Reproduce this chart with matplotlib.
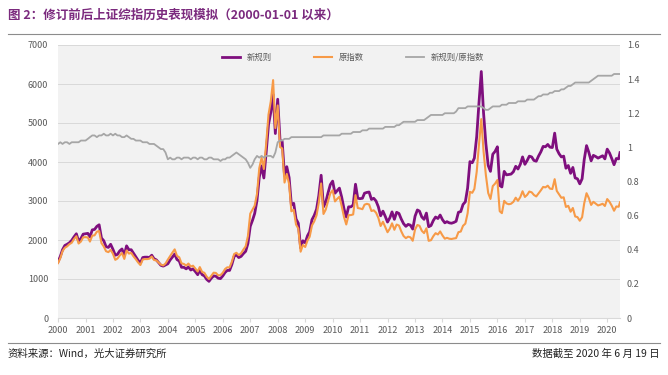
import pandas as pd
import matplotlib
matplotlib.use("Agg")
import matplotlib.pyplot as plt
import matplotlib.dates as mdates

plt.rcParams['font.family'] = ['Noto Sans CJK SC', 'DejaVu Sans']

# 月度取值（每月初），最后一个点为 2020-06-19
dates = list(pd.date_range('2000-01-01', '2020-06-01', freq='MS')) + [pd.Timestamp('2020-06-19')]

# 原指数
orig = [
    1407, 1535, 1714, 1801, 1836, 1894, 1928, 2023, 2097, 1910, 1961, 2070,
    2073, 2065, 1959, 2112, 2119, 2214, 2230, 1920, 1834, 1712, 1689, 1747,
    1646, 1491, 1524, 1603, 1667, 1515, 1732, 1652, 1669, 1581, 1507, 1426,
    1358, 1500, 1511, 1510, 1521, 1576, 1487, 1476, 1421, 1367, 1348, 1397,
    1497, 1590, 1675, 1760, 1595, 1555, 1400, 1386, 1342, 1396, 1320, 1341,
    1266, 1191, 1306, 1181, 1159, 1060, 1000, 1083, 1162, 1155, 1092, 1099,
    1161, 1258, 1299, 1298, 1440, 1641, 1672, 1612, 1658, 1752, 1837, 2099,
    2675, 2786, 2881, 3183, 3841, 4109, 3820, 4471, 5218, 5552, 6100, 4871,
    5450, 4383, 4348, 3473, 3693, 3433, 2736, 2775, 2397, 2293, 1700, 1871,
    1821, 1991, 2082, 2373, 2477, 2633, 2959, 3450, 2667, 2779, 2996, 3195,
    3277, 2989, 3051, 3110, 2871, 2592, 2398, 2638, 2639, 2656, 3150, 2820,
    2808, 2790, 2905, 2928, 2911, 2743, 2762, 2701, 2568, 2359, 2468, 2333,
    2199, 2292, 2428, 2262, 2396, 2372, 2225, 2103, 2047, 2086, 2068, 1980,
    2269, 2385, 2365, 2236, 2177, 2300, 1979, 1994, 2098, 2175, 2141, 2220,
    2116, 2033, 2056, 2033, 2026, 2039, 2048, 2201, 2217, 2364, 2420, 2683,
    3235, 3210, 3310, 3748, 4442, 5100, 4277, 3664, 3206, 3053, 3383, 3445,
    3539, 2738, 2688, 3004, 2938, 2917, 2930, 2979, 3085, 3005, 3100, 3250,
    3104, 3159, 3242, 3223, 3155, 3117, 3192, 3273, 3361, 3349, 3393, 3317,
    3307, 3560, 3259, 3169, 3082, 3095, 2847, 2876, 2725, 2821, 2603, 2588,
    2494, 2585, 2941, 3200, 3078, 2899, 2979, 2933, 2886, 2905, 2929, 2872,
    3050, 2977, 2880, 2750, 2860, 2852, 2967,
]

# 新规则
new_rule = [
    1440, 1580, 1750, 1860, 1890, 1930, 1990, 2080, 2160, 1970, 2040, 2150,
    2160, 2170, 2080, 2260, 2270, 2350, 2390, 2050, 1980, 1830, 1810, 1890,
    1760, 1610, 1630, 1720, 1770, 1610, 1850, 1750, 1750, 1660, 1570, 1480,
    1410, 1550, 1560, 1560, 1550, 1610, 1520, 1490, 1420, 1350, 1330, 1360,
    1390, 1490, 1560, 1640, 1500, 1460, 1300, 1300, 1260, 1310, 1230, 1260,
    1190, 1110, 1230, 1110, 1080, 990, 940, 1020, 1080, 1070, 1020, 1010,
    1080, 1170, 1220, 1220, 1370, 1580, 1620, 1550, 1580, 1650, 1710, 1910,
    2350, 2510, 2680, 3020, 3610, 3900, 3590, 4250, 4960, 5270, 5730, 4730,
    5610, 4560, 4520, 3650, 3880, 3600, 2900, 2940, 2540, 2430, 1800, 1980,
    1930, 2110, 2210, 2520, 2630, 2790, 3140, 3660, 2850, 2970, 3210, 3420,
    3510, 3200, 3260, 3330, 3100, 2800, 2590, 2850, 2850, 2900, 3430, 3070,
    3060, 3070, 3200, 3220, 3230, 3040, 3070, 3000, 2850, 2620, 2740, 2610,
    2460, 2570, 2720, 2530, 2710, 2680, 2540, 2420, 2350, 2400, 2380, 2280,
    2610, 2770, 2740, 2590, 2530, 2690, 2340, 2370, 2500, 2590, 2550, 2640,
    2520, 2440, 2470, 2440, 2430, 2450, 2480, 2710, 2730, 2910, 2980, 3330,
    4010, 3980, 4100, 4650, 5510, 6320, 5260, 4470, 3910, 3760, 4200, 4270,
    4390, 3400, 3360, 3760, 3670, 3680, 3690, 3750, 3890, 3820, 3940, 4130,
    3940, 4040, 4150, 4130, 4040, 4020, 4150, 4260, 4400, 4390, 4450, 4380,
    4370, 4740, 4330, 4210, 4130, 4150, 3840, 3910, 3710, 3860, 3590, 3570,
    3440, 3570, 4060, 4420, 4250, 4030, 4170, 4140, 4100, 4130, 4160, 4080,
    4330, 4230, 4090, 3930, 4090, 4080, 4240,
]

# 新规则/原指数（右轴）
ratio = [
    1.02, 1.03, 1.02, 1.03, 1.03, 1.02, 1.03, 1.03, 1.03, 1.03, 1.04, 1.04,
    1.04, 1.05, 1.06, 1.07, 1.07, 1.06, 1.07, 1.07, 1.08, 1.07, 1.07, 1.08,
    1.07, 1.08, 1.07, 1.07, 1.06, 1.06, 1.07, 1.06, 1.05, 1.05, 1.04, 1.04,
    1.04, 1.03, 1.03, 1.03, 1.02, 1.02, 1.02, 1.01, 1.00, 0.99, 0.99, 0.97,
    0.93, 0.94, 0.93, 0.93, 0.94, 0.94, 0.93, 0.94, 0.94, 0.94, 0.93, 0.94,
    0.94, 0.93, 0.94, 0.94, 0.93, 0.93, 0.94, 0.94, 0.93, 0.93, 0.93, 0.92,
    0.93, 0.93, 0.94, 0.94, 0.95, 0.96, 0.97, 0.96, 0.95, 0.94, 0.93, 0.91,
    0.88, 0.90, 0.93, 0.95, 0.94, 0.95, 0.94, 0.95, 0.95, 0.95, 0.94, 0.97,
    1.03, 1.04, 1.04, 1.05, 1.05, 1.05, 1.06, 1.06, 1.06, 1.06, 1.06, 1.06,
    1.06, 1.06, 1.06, 1.06, 1.06, 1.06, 1.06, 1.06, 1.07, 1.07, 1.07, 1.07,
    1.07, 1.07, 1.07, 1.07, 1.08, 1.08, 1.08, 1.08, 1.08, 1.09, 1.09, 1.09,
    1.09, 1.10, 1.10, 1.10, 1.11, 1.11, 1.11, 1.11, 1.11, 1.11, 1.11, 1.12,
    1.12, 1.12, 1.12, 1.12, 1.13, 1.13, 1.14, 1.15, 1.15, 1.15, 1.15, 1.15,
    1.15, 1.16, 1.16, 1.16, 1.16, 1.17, 1.18, 1.19, 1.19, 1.19, 1.19, 1.19,
    1.19, 1.20, 1.20, 1.20, 1.20, 1.20, 1.21, 1.23, 1.23, 1.23, 1.23, 1.24,
    1.24, 1.24, 1.24, 1.24, 1.24, 1.24, 1.23, 1.22, 1.22, 1.23, 1.24, 1.24,
    1.24, 1.24, 1.25, 1.25, 1.25, 1.26, 1.26, 1.26, 1.26, 1.27, 1.27, 1.27,
    1.27, 1.28, 1.28, 1.28, 1.28, 1.29, 1.30, 1.30, 1.31, 1.31, 1.31, 1.32,
    1.32, 1.33, 1.33, 1.33, 1.34, 1.34, 1.35, 1.36, 1.36, 1.37, 1.38, 1.38,
    1.38, 1.38, 1.38, 1.38, 1.38, 1.39, 1.40, 1.41, 1.42, 1.42, 1.42, 1.42,
    1.42, 1.42, 1.42, 1.43, 1.43, 1.43, 1.43,
]

years = list(range(2000, 2021))

purple = '#7f0f7e'
orange = '#f79a47'
grey = '#a6a6a6'
txt = '#595959'

fig = plt.figure(figsize=(6.68, 3.75), dpi=100)
ax = fig.add_axes([58 / 668, 57 / 375, 562 / 668, 273 / 375])
ax.set_facecolor('#f2f2f2')
ax2 = ax.twinx()

l1, = ax.plot(dates, new_rule, color=purple, lw=2.0, label='新规则')
l2, = ax.plot(dates, orig, color=orange, lw=1.5, label='原指数')
l3, = ax2.plot(dates, ratio, color=grey, lw=1.3, label='新规则/原指数')

ax.set_ylim(0, 7000)
ax.set_yticks(range(0, 7001, 1000))
ax2.set_ylim(0, 1.6)
ax2.set_yticks([0, 0.2, 0.4, 0.6, 0.8, 1.0, 1.2, 1.4, 1.6])
ax2.set_yticklabels(['0', '0.2', '0.4', '0.6', '0.8', '1', '1.2', '1.4', '1.6'])

ax.set_xlim(pd.Timestamp('2000-01-01'), pd.Timestamp('2020-06-19'))
ax.set_xticks([pd.Timestamp(f'{y}-01-01') for y in years])
ax.xaxis.set_major_formatter(mdates.DateFormatter('%Y'))

ax.grid(axis='y', color='#d9d9d9', lw=0.7)
ax.set_axisbelow(True)
for a in (ax, ax2):
    for s in a.spines.values():
        s.set_visible(False)
ax.spines['bottom'].set_visible(True)
ax.spines['bottom'].set_color('#d9d9d9')
ax.tick_params(axis='x', colors=txt, labelsize=6.5, length=3, color='#d9d9d9', pad=3)
ax.tick_params(axis='y', colors=txt, labelsize=6.5, length=0, pad=7)
ax2.tick_params(axis='y', colors=txt, labelsize=6.5, length=0, pad=5)

ax.legend(handles=[l1, l2, l3], loc='upper center', bbox_to_anchor=(0.525, 1.0), ncol=3,
          frameon=False, fontsize=6, labelcolor=txt, handlelength=2.2, columnspacing=5)

# 标题和脚注
fig.text(8 / 668, 1 - 15 / 375, '图 2：修订前后上证综指历史表现模拟（2000-01-01 以来）',
         color='#7b2a7e', fontsize=9, fontweight='bold', va='center')
fig.add_artist(plt.Line2D([8 / 668, 660 / 668], [1 - 34 / 375, 1 - 34 / 375], color='#8c8c8c', lw=0.8))
fig.add_artist(plt.Line2D([8 / 668, 660 / 668], [1 - 343 / 375, 1 - 343 / 375], color='#8c8c8c', lw=0.8))
fig.text(8 / 668, 1 - 354 / 375, '资料来源：Wind，光大证券研究所', fontsize=7.5, color='#222222', va='center')
fig.text(660 / 668, 1 - 354 / 375, '数据截至 2020 年 6 月 19 日', fontsize=7.5, color='#222222',
         va='center', ha='right')

fig.savefig('out.png', dpi=100)
